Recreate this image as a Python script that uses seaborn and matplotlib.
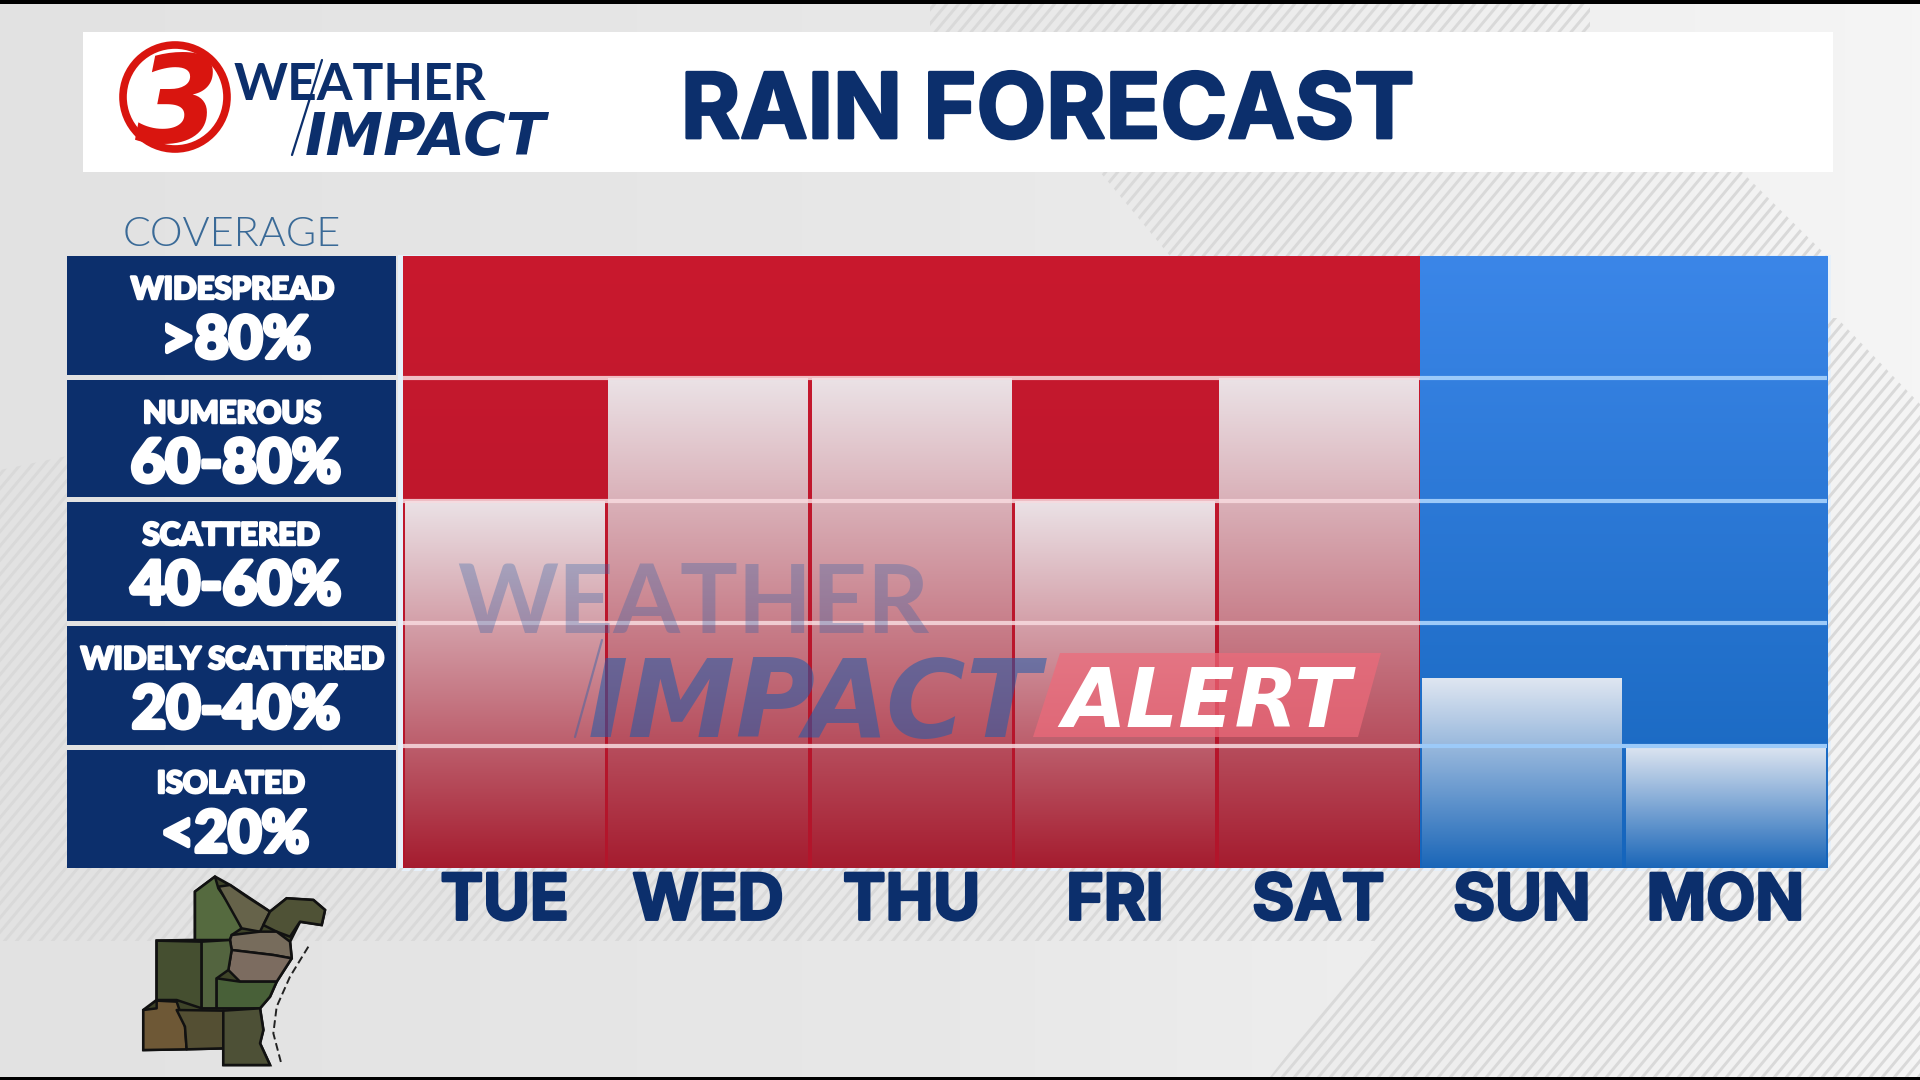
import numpy as np
import pandas as pd
import matplotlib
matplotlib.use('Agg')
import matplotlib.pyplot as plt
import seaborn as sns
from matplotlib.collections import LineCollection
from matplotlib.colors import LinearSegmentedColormap
from matplotlib.patches import Circle, Polygon, Rectangle
import matplotlib.patheffects as pe

# ─── data ────────────────────────────────────────────────────────────────────
days = ['TUE', 'WED', 'THU', 'FRI', 'SAT', 'SUN', 'MON']
chance = [60, 80, 80, 60, 80, 31, 20]
alert_flag = [True, True, True, True, True, False, False]
coverage_names = ['WIDESPREAD', 'NUMEROUS', 'SCATTERED', 'WIDELY SCATTERED', 'ISOLATED']
coverage_ranges = ['>80%', '60-80%', '40-60%', '20-40%', '<20%']
row_breaks = [20, 40, 60, 80]

NAVY = '#0c2f6c'
FONT = 'Lato'
HEAVY = 'Inter'
SLANT = 'DejaVu Sans'

# county outlines of the small locator map (zoomed crop coordinates)
map_outline = [(405, 815), (465, 770), (510, 795), (630, 875), (680, 835), (760, 840), (795, 870), (785, 915),
               (720, 905), (690, 965), (695, 1015), (650, 1085), (630, 1130), (600, 1165), (610, 1230),
               (600, 1270), (630, 1335), (490, 1335), (490, 1285), (250, 1290), (250, 1170), (290, 1140),
               (290, 962), (405, 960)]
counties = [
    ([(405, 815), (465, 770), (475, 805), (520, 870), (545, 925), (515, 945), (510, 960), (405, 960)], '#556a3f'),
    ([(475, 800), (510, 795), (560, 830), (630, 875), (610, 915), (600, 935), (545, 925)], '#66634a'),
    ([(630, 875), (680, 835), (760, 840), (795, 870), (785, 915), (720, 905), (690, 950), (650, 935), (610, 915)], '#4f5236'),
    ([(515, 945), (600, 935), (650, 935), (690, 965), (695, 1015), (640, 1005), (515, 990), (510, 960)], '#776c5c'),
    ([(515, 990), (640, 1005), (695, 1015), (650, 1085), (540, 1085), (505, 1050)], '#7c6c60'),
    ([(290, 962), (425, 965), (425, 1165), (350, 1140), (290, 1140)], '#454f30'),
    ([(425, 965), (510, 960), (515, 990), (505, 1050), (470, 1075), (470, 1165), (425, 1165)], '#53643f'),
    ([(470, 1075), (540, 1085), (650, 1085), (630, 1130), (600, 1165), (470, 1165)], '#486038'),
    ([(250, 1170), (290, 1165), (290, 1142), (350, 1145), (375, 1220), (380, 1288), (250, 1290)], '#6e5836'),
    ([(350, 1170), (490, 1172), (490, 1285), (380, 1288), (375, 1220)], '#544f33'),
    ([(490, 1172), (600, 1165), (610, 1230), (600, 1270), (630, 1335), (490, 1335)], '#4d5036'),
]

# regions of the background that carry the diagonal stripes
stripe_zones = [
    [(930, 4), (1590, 4), (1590, 32), (930, 32)],
    [(1100, 172), (1742, 172), (1827, 256), (1170, 256)],
    [(0, 470), (67, 456), (67, 868), (1827, 868), (1827, 318), (1837, 318), (1920, 404),
     (1920, 1077), (1270, 1077), (1375, 941), (0, 941)],
]

df = pd.DataFrame({'day': days, 'chance': chance, 'top': [100] * len(days)})

sns.set_theme(style='white')
plt.rcParams['font.family'] = [FONT, 'DejaVu Sans']

fig = plt.figure(figsize=(19.2, 10.8), dpi=100)

# ─── backdrop ────────────────────────────────────────────────────────────────
bg = fig.add_axes([0, 0, 1, 1], zorder=0)
bg.imshow(np.linspace(0, 1, 256).reshape(1, -1), aspect='auto', extent=(0, 1920, 1080, 0),
          cmap=LinearSegmentedColormap.from_list('bg', ['#e2e2e2', '#e8e8e8', '#f5f5f5']))
xs = np.arange(-1000, 2400, 12)
segs = [[(x, 1080), (x + 906, 0)] for x in xs]
for zone in stripe_zones:
    clip = Polygon(zone, closed=True, fc='none', ec='none')
    bg.add_patch(clip)
    lc = LineCollection(segs, colors='#d9d9d9', linewidths=2.1)
    bg.add_collection(lc)
    lc.set_clip_path(clip)
bg.add_patch(Rectangle((0, 0), 1920, 4, fc='black', ec='none'))
bg.add_patch(Rectangle((0, 1077), 1920, 3, fc='black', ec='none'))
bg.add_patch(Rectangle((83, 32), 1750, 140, fc='white', ec='none'))
bg.add_patch(Rectangle((398, 255), 1433, 616, fc='#e6f0fa', ec='none'))
bg.set_xlim(0, 1920)
bg.set_ylim(1080, 0)
bg.axis('off')


def gradient_fill(ax, patch, top, bottom, z):
    cmap = LinearSegmentedColormap.from_list('g', [top, bottom])
    x0, y0 = patch.get_x(), patch.get_y()
    im = ax.imshow(np.linspace(0, 1, 256).reshape(-1, 1), aspect='auto', cmap=cmap, zorder=z,
                   extent=(x0, x0 + patch.get_width(), y0, y0 + patch.get_height()), origin='upper')
    im.set_clip_path(patch)
    patch.set_facecolor('none')
    patch.set_edgecolor('none')


# ─── chart ───────────────────────────────────────────────────────────────────
ax = fig.add_axes([403 / 1920, 1 - 868 / 1080, 1424 / 1920, 612 / 1080], zorder=1)
ax.patch.set_alpha(0)

sns.barplot(data=df, x='day', y='top', width=1, color='#c8192e', ax=ax, zorder=1)
n_bg = len(ax.patches)
sns.barplot(data=df, x='day', y='chance', width=0.98, color='#dddddd', ax=ax, zorder=2)

for i, p in enumerate(ax.patches[:n_bg]):
    if alert_flag[i]:
        gradient_fill(ax, p, '#c9192e', '#b2152b', 1)
    else:
        gradient_fill(ax, p, '#3b86e8', '#1565bc', 1)
for i, p in enumerate(ax.patches[n_bg:]):
    if alert_flag[i]:
        gradient_fill(ax, p, '#ebe2e6', '#a51c2f', 2)
    else:
        gradient_fill(ax, p, '#dfe6f1', '#1a66b8', 2)

n_alert = sum(alert_flag)
ax.hlines(row_breaks, -0.5, n_alert - 0.5, colors='#f8dbe0', linewidth=3, alpha=0.85, zorder=3)
ax.hlines(row_breaks, n_alert - 0.5, len(days) - 0.5, colors='#9ccaf9', linewidth=3, zorder=3)

ax.set_xlim(-0.5, len(days) - 0.5)
ax.set_ylim(0, 100)
ax.set(xlabel='', ylabel='', yticks=[])
ax.tick_params(axis='x', length=0, pad=4, labelcolor=NAVY, labelsize=46)
for lab in ax.get_xticklabels():
    lab.set_family([HEAVY, 'DejaVu Sans'])
    lab.set_fontweight('bold')
    lab.set_path_effects([pe.withStroke(linewidth=2, foreground=NAVY)])
sns.despine(ax=ax, left=True, bottom=True)

# ─── overlay: header, coverage column, watermark, map ────────────────────────
ov = fig.add_axes([0, 0, 1, 1], zorder=2)
ov.set_xlim(0, 1920)
ov.set_ylim(1080, 0)
ov.axis('off')
ov.patch.set_alpha(0)
renderer = fig.canvas.get_renderer()


def fit(x0, x1, y, s, size=30, **kw):
    t = ov.text((x0 + x1) / 2, y, s, ha='center', va='baseline', fontsize=size, **kw)
    t.set_fontsize(size * (x1 - x0) / t.get_window_extent(renderer).width)
    return t


navy_fat = [pe.withStroke(linewidth=2, foreground=NAVY)]
glow = [pe.withStroke(linewidth=1.8, foreground='white')]
glow_big = [pe.withStroke(linewidth=3, foreground='white')]

# logo
ov.add_patch(Circle((175, 97), 52, fc='white', ec='#d9150f', lw=5.5))
fit(135, 220, 142, '3', color='#d9150f', weight='bold', style='italic', family=SLANT)
fit(233, 486, 100, 'WEATHER', color=NAVY, weight='bold')
fit(305, 546, 155, 'IMPACT', color=NAVY, weight='bold', style='italic', family=SLANT)
ov.plot([322, 292], [60, 155], color=NAVY, lw=1.6)

fit(681, 1414, 138, 'RAIN FORECAST', color=NAVY, weight='bold', family=[HEAVY, 'DejaVu Sans'], path_effects=navy_fat)
fit(123, 341, 246, 'COVERAGE', color='#3a6a97', weight=300)

# coverage boxes
row_tops = [256, 380, 502, 626, 750]
row_bots = [375, 497, 621, 745, 868]
first_w = [(131, 334), (143, 321), (143, 320), (81, 384), (157, 305)]
second_w = [(161, 311), (131, 341), (131, 341), (132, 340), (161, 309)]
for i in range(5):
    ov.add_patch(Rectangle((67, row_tops[i]), 329, row_bots[i] - row_tops[i], fc=NAVY, ec='none'))
    fit(*first_w[i], row_tops[i] + 43, coverage_names[i], color='white', weight=900, path_effects=glow)
    fit(*second_w[i], row_tops[i] + 102, coverage_ranges[i], color='white', weight=900, path_effects=glow_big)

# watermark
fit(457, 929, 633, 'WEATHER', color='#2f62a8', alpha=0.32, weight='bold')
fit(588, 1040, 737, 'IMPACT', color='#1f5cab', alpha=0.55, weight='bold', style='italic', family=SLANT)
ov.plot([602, 575], [640, 737], color='#2f62a8', alpha=0.45, lw=1.6)
ov.add_patch(Polygon([(1033, 737), (1060, 653), (1381, 653), (1358, 737)], closed=True,
                     fc='#ee6a7a', ec='none', alpha=0.7))
fit(1063, 1351, 727, 'ALERT', color='white', weight='bold', style='italic', family=SLANT)

# locator map
ov.add_patch(Polygon([(60 + x / 3, 620 + y / 3) for x, y in map_outline], closed=True, fc='#3f4429', ec='#111111', lw=2))
for pts, col in counties:
    px = [(60 + x / 3, 620 + y / 3) for x, y in pts]
    ov.add_patch(Polygon(px, closed=True, fc=col, ec='#111111', lw=1.8, joinstyle='round'))
ov.plot([60 + x / 3 for x in (745, 690, 650, 640, 665)],
        [620 + y / 3 for y in (980, 1070, 1160, 1240, 1335)],
        color='#222222', lw=1.4, ls=(0, (4, 2)))

fig.savefig('out.png', dpi=100)
